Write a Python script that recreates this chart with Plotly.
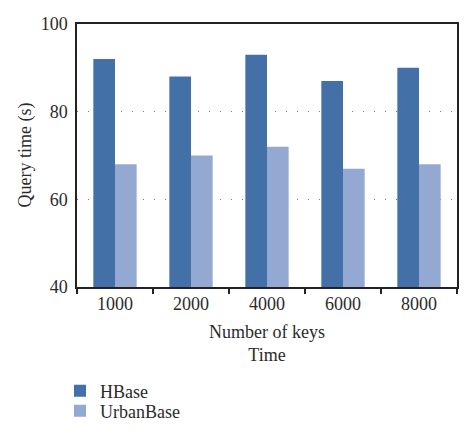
import plotly.graph_objects as go

categories = ["1000", "2000", "4000", "6000", "8000"]
hbase = [92, 88, 93, 87, 90]
urbanbase = [68, 70, 72, 67, 68]

FONT = "Liberation Serif"
TXT = "#2b2b2b"
W, H = 466, 433  # page adds an 8px body margin
L, R, T, B = 69, 17, 16, 154

fig = go.Figure()
fig.add_trace(go.Bar(x=categories, y=hbase, name="HBase", legend="legend",
                     marker=dict(color="#4470a8", line=dict(width=0))))
fig.add_trace(go.Bar(x=categories, y=urbanbase, name="UrbanBase", legend="legend2",
                     marker=dict(color="#93a9d1", line=dict(width=0))))

leg_common = dict(orientation="v", xref="container", yref="container",
                  xanchor="left", yanchor="middle",
                  font=dict(family=FONT, size=18, color=TXT),
                  itemwidth=30, bgcolor="rgba(0,0,0,0)")

fig.update_layout(
    width=W, height=H,
    margin=dict(l=L, r=R, t=T, b=B, autoexpand=False),
    paper_bgcolor="white", plot_bgcolor="white",
    barmode="group", bargap=0.43, bargroupgap=0,
    font=dict(family=FONT, size=18, color=TXT),
    showlegend=True,
    legend=dict(x=52 / W, y=1 - 383 / H, **leg_common),
    legend2=dict(x=52 / W, y=1 - 403 / H, **leg_common),
    annotations=[dict(text="Query time (s)", textangle=-90,
                      xref="paper", yref="paper",
                      x=(17 - L) / (W - L - R), y=0.5,
                      xanchor="center", yanchor="middle", showarrow=False,
                      font=dict(family=FONT, size=18, color=TXT))],
)
fig.update_xaxes(
    type="category",
    title=dict(text="Number of keys<br>Time", font=dict(size=18), standoff=12),
    showline=True, linecolor="#222", linewidth=1.5, mirror=True,
    ticks="outside", tickson="boundaries", ticklen=5, tickcolor="#222", tickwidth=1.5,
    showgrid=False, tickfont=dict(size=18), tickangle=0,
)
fig.update_yaxes(
    range=[40, 100], dtick=20, tick0=40,
    showline=True, linecolor="#222", linewidth=1.5, mirror=True,
    ticks="outside", ticklen=4, tickcolor="rgba(0,0,0,0)",
    showgrid=True, gridcolor="#777", gridwidth=1,
    griddash="1px,10px", zeroline=False, tickfont=dict(size=18),
)

fig.write_html("out.html")
